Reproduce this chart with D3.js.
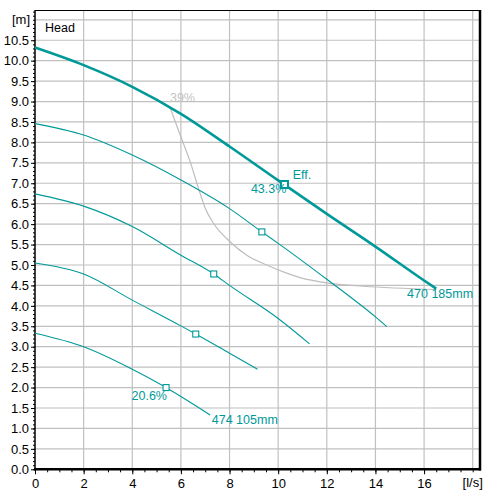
<!DOCTYPE html>
<html><head><meta charset="utf-8">
<script src="https://cdn.jsdelivr.net/npm/d3@7"></script>
<style>body{margin:0;background:#fff}svg{display:block}text{font-family:"Liberation Sans",Arial,sans-serif}</style>
</head><body><svg id="c" width="500" height="500"></svg>
<script>
// ---- data ----
const xTicks = [0,2,4,6,8,10,12,14,16];
const yTicks = [0.0,0.5,1.0,1.5,2.0,2.5,3.0,3.5,4.0,4.5,5.0,5.5,6.0,6.5,7.0,7.5,8.0,8.5,9.0,9.5,10.0,10.5];
const xUnit = "[l/s]", yUnit = "[m]", title = "Head";
const curveMain = [[0,10.32],[2,9.89],[4,9.36],[6,8.70],[8,7.90],[10,7.07],[12,6.25],[14,5.45],[16,4.62],[16.5,4.42]];
const curve2 = [[0,8.46],[2,8.18],[4,7.69],[6,7.08],[8,6.38],[9.33,5.81],[10,5.53],[12,4.65],[14,3.73],[14.47,3.49]];
const curve3 = [[0,6.74],[2,6.44],[4,5.94],[6,5.24],[7.35,4.78],[8,4.5],[10,3.69],[11.29,3.07]];
const curve4 = [[0,5.05],[2,4.78],[4,4.14],[6,3.51],[6.61,3.31],[8,2.84],[9.15,2.45]];
const curve5 = [[0,3.33],[2,3.0],[4,2.45],[5.39,2.0],[6,1.78],[7.2,1.33]];
const effCurve = [[5.55,8.86],[5.97,8.18],[6.38,7.53],[6.72,6.88],[7.0,6.39],[7.34,6.02],[8.02,5.57],[8.71,5.24],[9.53,5.0],[10.35,4.8],[10.9,4.69],[12.14,4.55],[13.5,4.48],[16.5,4.4]];
const markers = [[10.26,6.97],[9.33,5.81],[7.35,4.78],[6.61,3.31],[5.39,2.0]];
const labels = [
  {t:"39%", x:5.55, y:8.98, c:"gray"},
  {t:"Eff.", x:10.6, y:7.1, c:"teal"},
  {t:"43.3%", x:8.88, y:6.76, c:"teal"},
  {t:"470 185mm", x:15.3, y:4.2, c:"teal"},
  {t:"20.6%", x:3.97, y:1.7, c:"teal"},
  {t:"474 105mm", x:7.27, y:1.12, c:"teal"}
];

// ---- chart ----
const teal = "#009999", grid = "#c0c0c0", effGray = "#bdbdbd";
const svg = d3.select("#c");
const x = d3.scaleLinear().domain([0,18.3]).range([35,480]);
const y = d3.scaleLinear().domain([0,11.24]).range([469.3,10]);

// grid
svg.append("g").selectAll("line").data(d3.range(2,18.01,2)).join("line")
  .attr("x1",d=>x(d)).attr("x2",d=>x(d)).attr("y1",y(0)).attr("y2",10)
  .attr("stroke",grid).attr("stroke-width",1.2);
svg.append("g").selectAll("line").data(d3.range(0.5,11.01,0.5)).join("line")
  .attr("y1",d=>y(d)).attr("y2",d=>y(d)).attr("x1",x(0)).attr("x2",480)
  .attr("stroke",grid).attr("stroke-width",1.2);

// frame
svg.append("line").attr("x1",35).attr("x2",480).attr("y1",10.5).attr("y2",10.5).attr("stroke","#000").attr("stroke-width",1);
svg.append("line").attr("x1",480).attr("x2",480).attr("y1",10).attr("y2",470.5).attr("stroke","#000").attr("stroke-width",2.5);

// axes
const yAxisMinor = d3.axisLeft(y).tickValues(d3.range(0,11.21,0.1)).tickSize(2).tickFormat("");
svg.append("g").attr("transform","translate(35,0)").call(yAxisMinor).call(g=>g.select(".domain").remove());
const yAxis = d3.axisLeft(y).tickValues(yTicks).tickSize(4).tickPadding(2).tickFormat(d3.format(".1f"));
const ya = svg.append("g").attr("transform","translate(35,0)").call(yAxis);
ya.select(".domain").remove();
ya.selectAll("text").attr("font-size",13).attr("fill","#000").attr("font-family","Liberation Sans, Arial, sans-serif");
ya.selectAll("line").attr("stroke","#000");
svg.append("line").attr("x1",35).attr("x2",35).attr("y1",10).attr("y2",470).attr("stroke","#000").attr("stroke-width",1.5);

const xAxisMinor = d3.axisBottom(x).tickValues(d3.range(0,18.01,0.5)).tickSize(3).tickFormat("");
svg.append("g").attr("transform","translate(0,469.3)").call(xAxisMinor).call(g=>g.select(".domain").remove());
const xAxis = d3.axisBottom(x).tickValues(xTicks).tickSize(5).tickPadding(4).tickFormat(d3.format("d"));
const xa = svg.append("g").attr("transform","translate(0,469.3)").call(xAxis);
xa.select(".domain").remove();
xa.selectAll("text").attr("font-size",13).attr("fill","#000").attr("font-family","Liberation Sans, Arial, sans-serif");
svg.append("line").attr("x1",34).attr("x2",481).attr("y1",469.3).attr("y2",469.3).attr("stroke","#000").attr("stroke-width",2.5);

// units & title
svg.append("text").attr("x",30).attr("y",y(11.0)+4.5).attr("text-anchor","end").attr("font-size",13).text(yUnit);
svg.append("text").attr("x",x(18)).attr("y",487).attr("text-anchor","middle").attr("font-size",13).text(xUnit);
svg.append("text").attr("x",45).attr("y",32).attr("font-size",12.5).text(title);

// curves
const line = d3.line().x(d=>x(d[0])).y(d=>y(d[1])).curve(d3.curveMonotoneX);
svg.append("path").datum(effCurve).attr("d",line).attr("fill","none").attr("stroke",effGray).attr("stroke-width",1.2);
[curve2,curve3,curve4,curve5].forEach(c=>{
  svg.append("path").datum(c).attr("d",line).attr("fill","none").attr("stroke",teal).attr("stroke-width",1.1);
});
svg.append("path").datum(curveMain).attr("d",line).attr("fill","none").attr("stroke",teal).attr("stroke-width",2.6);

// markers
svg.append("g").selectAll("rect").data(markers).join("rect")
  .attr("x",(d,i)=>x(d[0])-(i===0?3.5:3)).attr("y",(d,i)=>y(d[1])-(i===0?3.5:3))
  .attr("width",(d,i)=>i===0?7:6).attr("height",(d,i)=>i===0?7:6)
  .attr("fill","#fff").attr("stroke",teal).attr("stroke-width",(d,i)=>i===0?2:1.1);

// labels
svg.append("g").selectAll("text").data(labels).join("text")
  .attr("x",d=>x(d.x)).attr("y",d=>y(d.y)).attr("font-size",12.5)
  .attr("fill",d=>d.c==="gray"?"#c4c4c4":teal).text(d=>d.t);
</script></body></html>
